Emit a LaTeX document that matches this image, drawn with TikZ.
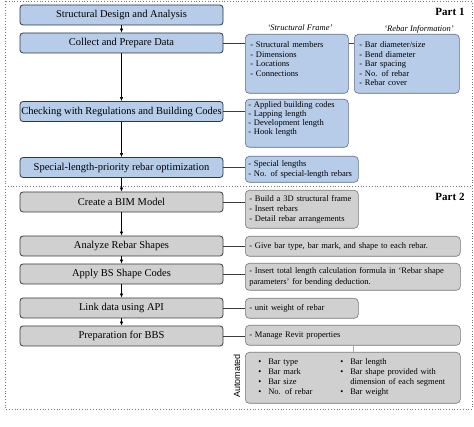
\documentclass[tikz,border=0pt]{standalone}
\usepackage{fontspec}
\setmainfont{Liberation Serif}
\setsansfont{Liberation Sans}
\usetikzlibrary{arrows.meta,calc}
\definecolor{bfill}{RGB}{182,204,232}
\definecolor{gfill}{RGB}{208,208,208}
\definecolor{bdraw}{RGB}{45,55,75}
\definecolor{gdraw}{RGB}{60,60,60}
\definecolor{rbdraw}{RGB}{95,110,135}
\definecolor{rgdraw}{RGB}{120,120,120}
\definecolor{framec}{RGB}{120,120,120}
\begin{document}
\begin{tikzpicture}[x=1pt,y=-1pt,
  lbox/.style={draw, line width=0.8pt, rounded corners=3pt, minimum width=203pt, minimum height=20pt, inner sep=0pt, font=\fontsize{10.5}{12}\selectfont},
  lblue/.style={lbox, fill=bfill, draw=bdraw},
  lgray/.style={lbox, fill=gfill, draw=gdraw},
  rbox/.style={draw, line width=0.6pt, rounded corners=4pt, anchor=north west, align=left, inner xsep=5pt, inner ysep=2pt, font=\fontsize{8.5}{9.5}\selectfont},
  rblue/.style={rbox, fill=bfill, draw=rbdraw},
  rgray/.style={rbox, fill=gfill, draw=rgdraw},
  flow/.style={-{Latex[length=4pt,width=3.5pt]}, line width=0.6pt, black},
  conn/.style={line width=0.6pt, draw=gdraw},
  frame/.style={dotted, line width=0.8pt, draw=framec},
  lab/.style={font=\fontsize{8.5}{10}\selectfont\itshape},
  part/.style={font=\fontsize{11}{13}\selectfont\bfseries}
]
\useasboundingbox (0,0) rectangle (474,427);
% frames
\draw[frame] (5,1.5) rectangle (472,409);
\draw[frame] (5,186) -- (472,186);
\node[part] (p1) at (450,12) {Part 1};
\node[part] (p2) at (450,197) {Part 2};

% left column
\node[lblue] (b1) at (121.5,15) {Structural Design and Analysis};
\node[lblue] (b2) at (121.5,43) {Collect and Prepare Data};
\node[lblue] (b3) at (121.5,111.5) {Checking with Regulations and Building Codes};
\node[lblue] (b4) at (121.5,167.5) {Special-length-priority rebar optimization};
\node[lgray] (b5) at (121.5,202) {Create a BIM Model};
\node[lgray] (b6) at (121.5,246) {Analyze Rebar Shapes};
\node[lgray] (b7) at (121.5,274) {Apply BS Shape Codes};
\node[lgray] (b8) at (121.5,308) {Link data using API};
\node[lgray] (b9) at (121.5,336) {Preparation for BBS};

\draw[flow] (b1) -- (b2);
\draw[flow] (b2) -- (b3);
\draw[flow] (b3) -- (b4);
\draw[flow] (b4) -- (b5);
\draw[flow] (b5) -- (b6);
\draw[flow] (b6) -- (b7);
\draw[flow] (b7) -- (b8);
\draw[flow] (b8) -- (b9);

% labels
\node[lab] (lsf) at (300,28) {‘Structural Frame’};
\node[lab] (lri) at (419,29) {‘Rebar Information’};

% right boxes part 1
\node[rblue, minimum width=103pt, text width=93pt, minimum height=59pt] (rs) at (245,34)
  {- Structural members\\- Dimensions\\- Locations\\- Connections\\\mbox{}};
\node[rblue, minimum width=105pt, text width=95pt, minimum height=59pt] (rr) at (354,34)
  {- Bar diameter/size\\- Bend diameter\\- Bar spacing\\- No. of rebar\\- Rebar cover};
\node[rblue, minimum width=103pt, text width=97pt, inner xsep=3pt, minimum height=48pt, font=\fontsize{8.5}{8.8}\selectfont] (rc) at (245,99)
  {- Applied building codes\\- Lapping length\\- Development length\\- Hook length\\[2pt]\mbox{}};
\node[rblue, minimum width=113pt, text width=107pt, inner xsep=3pt, minimum height=26pt] (rsp) at (245,156)
  {- Special lengths\\\mbox{- No. of special-length rebars}};

% right boxes part 2
\node[rgray, minimum width=113pt, text width=105pt, inner xsep=4pt, minimum height=38pt, font=\fontsize{8.5}{10}\selectfont] (rb) at (245,190)
  {- Build a 3D structural frame\\- Insert rebars\\- Detail rebar arrangements};
\node[rgray, minimum width=215pt, text width=207pt, inner xsep=4pt, minimum height=20pt] (ran) at (245,236)
  {- Give bar type, bar mark, and shape to each rebar.};
\node[rgray, minimum width=215pt, text width=207pt, inner xsep=4pt, minimum height=27pt, font=\fontsize{8.5}{10.5}\selectfont] (rap) at (245,263)
  {- Insert total length calculation formula in ‘Rebar shape\\parameters’ for bending deduction.};
\node[rgray, minimum width=113pt, text width=105pt, inner xsep=4pt, minimum height=20pt] (rl) at (245,298)
  {- unit weight of rebar};
\node[rgray, minimum width=215pt, text width=207pt, inner xsep=4pt, minimum height=20pt] (rp) at (245,325)
  {- Manage Revit properties};
\node[rgray, minimum width=215pt, text width=205pt, minimum height=51pt, font=\fontsize{8.5}{10}\selectfont] (ra) at (245,352)
  {\begin{tabular}{@{\hspace{8pt}}p{10pt}@{}p{72pt}@{}p{10pt}@{}l@{}}
   • & Bar type & • & Bar length\\
   • & Bar mark & • & Bar shape provided with\\
   • & Bar size &  & dimension of each segment\\
   • & No. of rebar & • & Bar weight
   \end{tabular}};
\node[font=\sffamily\fontsize{9}{10}\selectfont, rotate=90] (auto) at (237,376) {Automated};

% connectors
\draw[conn] (b2.east) -- (b2.east -| rs.west);
\draw[conn] (b2.east -| rs.east) -- (b2.east -| rr.west);
\draw[conn] (b3.east) -- (b3.east -| rc.west);
\draw[conn] (b4.east) -- (b4.east -| rsp.west);
\draw[conn] (b5.east) -- (b5.east -| rb.west);
\draw[conn] (b6.east) -- (b6.east -| ran.west);
\draw[conn] (b7.east) -- (b7.east -| rap.west);
\draw[conn] (b8.east) -- (b8.east -| rl.west);
\draw[conn] (b9.east) -- (b9.east -| rp.west);
\draw[line width=0.4pt, draw=rgdraw!60] (rp.south) -- (ra.north);
\end{tikzpicture}
\end{document}
